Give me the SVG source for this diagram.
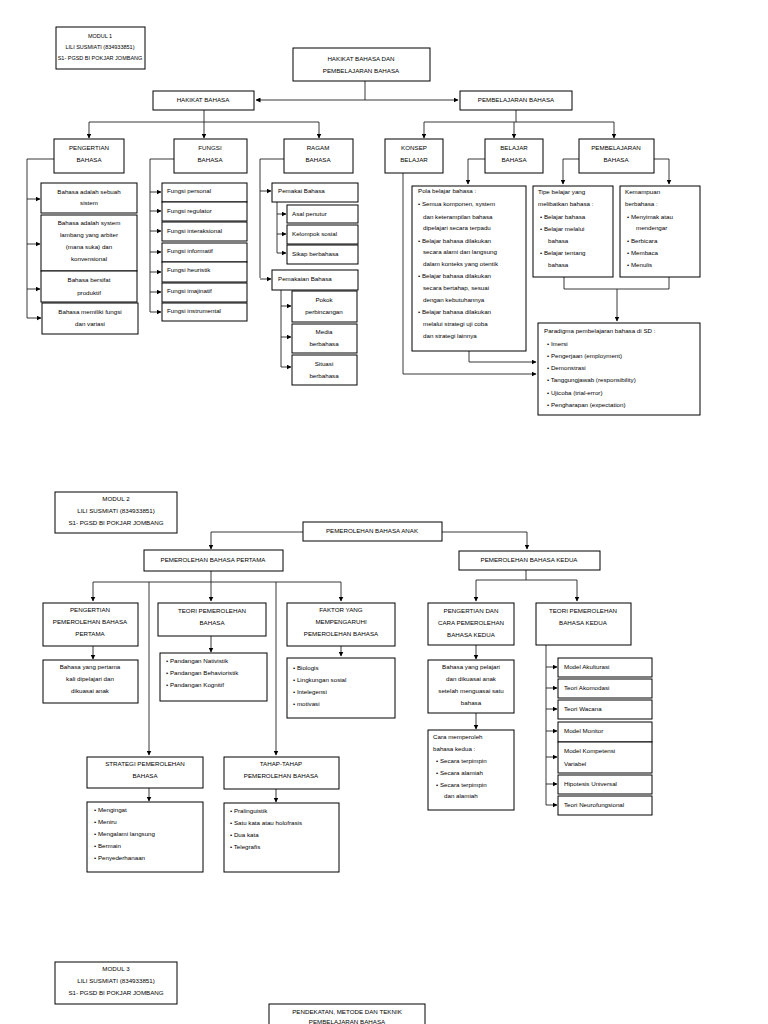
<svg xmlns="http://www.w3.org/2000/svg" width="768" height="1024" viewBox="0 0 768 1024">
<defs>
<marker id="a" markerWidth="5" markerHeight="5" refX="4.5" refY="2.5" orient="auto" markerUnits="userSpaceOnUse"><path d="M0,0 L5,2.5 L0,5 Z" fill="#000"/></marker>
<style>
rect{fill:#fff;stroke:#000;stroke-width:1}
text{font-family:"Liberation Sans",Arial,sans-serif;font-size:6.2px;fill:#000}
.c{text-anchor:middle}
.m{font-size:5.5px}
.l path{fill:none;stroke:#222;stroke-width:0.9}
.l .r{marker-end:url(#a)}
</style>
</defs>
<rect x="0" y="0" width="768" height="1024" style="fill:#fff;stroke:none"/>

<g class="l" id="connectors">
<path class="r" d="M365,81 V100 H256"/><path class="r" d="M365,100 H458"/>
<path d="M204,110 V122 M89,122 H319"/>
<path class="r" d="M89,122 V138"/><path class="r" d="M204,122 V138"/><path class="r" d="M319,122 V138"/>
<path d="M516,110 V122 M424,122 H614"/>
<path class="r" d="M424,122 V138"/><path class="r" d="M514,122 V138"/><path class="r" d="M614,122 V138"/>
<path d="M54,159 H27 V318"/>
<path class="r" d="M27,199 H40"/><path class="r" d="M27,244 H40"/><path class="r" d="M27,289 H40"/><path class="r" d="M27,318 H41"/>
<path d="M174,159 H150 V312"/>
<path class="r" d="M150,192 H161"/><path class="r" d="M150,211 H161"/><path class="r" d="M150,231 H161"/><path class="r" d="M150,252 H161"/><path class="r" d="M150,272 H161"/><path class="r" d="M150,292 H161"/><path class="r" d="M150,312 H161"/>
<path d="M284,159 H260 V278"/>
<path class="r" d="M260,191 H271"/><path class="r" d="M260,279 H271"/>
<path d="M277,202 V253"/>
<path class="r" d="M277,214 H286"/><path class="r" d="M277,234 H286"/><path class="r" d="M277,253 H286"/>
<path d="M281,290 V367"/>
<path class="r" d="M281,306 H291"/><path class="r" d="M281,337 H291"/><path class="r" d="M281,367 H291"/>
<path class="r" d="M403,173 V374 H536"/>
<path class="r" d="M485,159 H468 V184"/>
<path class="r" d="M469,351 V362 H536"/>
<path class="r" d="M579,159 H563 V184"/><path class="r" d="M654,159 H669 V184"/>
<path d="M564,277 V289 H669 V277"/><path class="r" d="M617,289 V321"/>

<path class="r" d="M303,532 H211 V549"/><path class="r" d="M442,532 H527 V549"/>
<path d="M211,571 V582 M93,582 H341"/>
<path class="r" d="M93,582 V601"/><path class="r" d="M211,582 V601"/><path class="r" d="M341,582 V601"/>
<path class="r" d="M149,582 V755"/><path class="r" d="M276,582 V755"/>
<path class="r" d="M93,646 V659"/><path class="r" d="M211,636 V652"/><path class="r" d="M341,646 V656"/>
<path class="r" d="M149,788 V801"/><path class="r" d="M276,789 V802"/>
<path d="M526,570 V580 M476,580 H577"/>
<path class="r" d="M476,580 V601"/><path class="r" d="M577,580 V601"/>
<path class="r" d="M476,645 V659"/><path class="r" d="M476,713 V729"/>
<path d="M546,645 V805"/>
<path class="r" d="M546,667 H557"/><path class="r" d="M546,688 H557"/><path class="r" d="M546,709 H557"/><path class="r" d="M546,731 H557"/><path class="r" d="M546,757 H557"/><path class="r" d="M546,784 H557"/><path class="r" d="M546,805 H557"/>
</g>

<g id="modul1"><rect x="56" y="27" width="89" height="42"/><text class="c m" x="100" y="38">MODUL 1</text><text class="c m" x="100" y="49">LILI SUSMIATI (834933851)</text><text class="c m" x="100" y="60">S1- PGSD BI POKJAR JOMBANG</text></g>
<g id="root1"><rect x="293" y="48" width="137" height="33"/><text class="c" x="361" y="61">HAKIKAT BAHASA DAN</text><text class="c" x="361" y="73">PEMBELAJARAN BAHASA</text></g>
<g id="hakikat"><rect x="153" y="91" width="101" height="19"/><text class="c" x="203" y="102">HAKIKAT BAHASA</text></g>
<g id="pemb"><rect x="460" y="91" width="112" height="19"/><text class="c" x="516" y="102">PEMBELAJARAN BAHASA</text></g>

<g id="pengertian"><rect x="54" y="139" width="70" height="34"/><text class="c" x="89" y="150">PENGERTIAN</text><text class="c" x="89" y="162">BAHASA</text></g>
<g id="p1"><rect x="41" y="183" width="96" height="30"/><text class="c" x="89" y="194">Bahasa adalah sebuah</text><text class="c" x="89" y="205">sistem</text></g>
<g id="p2"><rect x="41" y="215" width="96" height="56"/><text class="c" x="89" y="225">Bahasa adalah system</text><text class="c" x="89" y="237">lambang yang arbiter</text><text class="c" x="89" y="249">(mana suka) dan</text><text class="c" x="89" y="261">konvensional</text></g>
<g id="p3"><rect x="41" y="271" width="96" height="31"/><text class="c" x="89" y="282">Bahasa bersifat</text><text class="c" x="89" y="295">produktif</text></g>
<g id="p4"><rect x="42" y="303" width="96" height="31"/><text class="c" x="90" y="314">Bahasa memiliki fungsi</text><text class="c" x="90" y="326">dan variasi</text></g>

<g id="fungsi"><rect x="174" y="139" width="73" height="34"/><text class="c" x="210" y="150">FUNGSI</text><text class="c" x="210" y="162">BAHASA</text></g>
<g id="f1"><rect x="162" y="183" width="85" height="19"/><text x="167" y="193">Fungsi personal</text></g>
<g id="f2"><rect x="162" y="202" width="85" height="19"/><text x="167" y="213">Fungsi regulator</text></g>
<g id="f3"><rect x="162" y="222" width="85" height="19"/><text x="167" y="233">Fungsi interaksional</text></g>
<g id="f4"><rect x="162" y="243" width="85" height="19"/><text x="167" y="253">Fungsi informatif</text></g>
<g id="f5"><rect x="162" y="262" width="85" height="20"/><text x="167" y="272">Fungsi heuristik</text></g>
<g id="f6"><rect x="162" y="283" width="85" height="19"/><text x="167" y="293">Fungsi imajinatif</text></g>
<g id="f7"><rect x="162" y="303" width="85" height="18"/><text x="167" y="313">Fungsi instrumental</text></g>

<g id="ragam"><rect x="284" y="139" width="69" height="34"/><text class="c" x="318" y="150">RAGAM</text><text class="c" x="318" y="162">BAHASA</text></g>
<g id="r1"><rect x="272" y="183" width="86" height="19"/><text x="278" y="193">Pemakai Bahasa</text></g>
<g id="r1a"><rect x="287" y="205" width="71" height="18"/><text x="292" y="216">Asal penutur</text></g>
<g id="r1b"><rect x="287" y="225" width="71" height="19"/><text x="292" y="236">Kelompok sosial</text></g>
<g id="r1c"><rect x="287" y="245" width="71" height="19"/><text x="292" y="256">Sikap berbahasa</text></g>
<g id="r2"><rect x="272" y="270" width="86" height="20"/><text x="278" y="281">Pemakaian Bahasa</text></g>
<g id="r2a"><rect x="292" y="291" width="65" height="31"/><text class="c" x="324" y="302">Pokok</text><text class="c" x="324" y="314">perbincangan</text></g>
<g id="r2b"><rect x="292" y="324" width="65" height="29"/><text class="c" x="324" y="334">Media</text><text class="c" x="324" y="346">berbahasa</text></g>
<g id="r2c"><rect x="292" y="355" width="65" height="30"/><text class="c" x="324" y="366">Situasi</text><text class="c" x="324" y="378">berbahasa</text></g>

<g id="konsep"><rect x="385" y="139" width="58" height="34"/><text class="c" x="414" y="150">KONSEP</text><text class="c" x="414" y="162">BELAJAR</text></g>
<g id="belajar"><rect x="485" y="139" width="58" height="34"/><text class="c" x="514" y="150">BELAJAR</text><text class="c" x="514" y="162">BAHASA</text></g>
<g id="pembb"><rect x="579" y="139" width="75" height="34"/><text class="c" x="616" y="150">PEMBELAJARAN</text><text class="c" x="616" y="162">BAHASA</text></g>
<g id="pola"><rect x="412" y="186" width="114" height="165"/>
<text x="418" y="193">Pola belajar bahasa :</text>
<text x="418" y="206">• Semua komponen, system</text><text x="423" y="219">dan keterampilan bahasa</text><text x="423" y="230">dipelajari secara terpadu</text>
<text x="418" y="243">• Belajar bahasa dilakukan</text><text x="423" y="254">secara alami dan langsung</text><text x="423" y="266">dalam konteks yang otentik</text>
<text x="418" y="278">• Belajar bahasa dilakukan</text><text x="423" y="290">secara bertahap, sesuai</text><text x="423" y="302">dengan kebutuhannya</text>
<text x="418" y="314">• Belajar bahasa dilakukan</text><text x="423" y="326">melalui strategi uji coba</text><text x="423" y="338">dan strategi lainnya</text></g>
<g id="tipe"><rect x="533" y="186" width="80" height="91"/>
<text x="538" y="194">Tipe belajar yang</text><text x="538" y="206">melibatkan bahasa :</text>
<text x="540" y="219">•  Belajar bahasa</text><text x="540" y="231">•  Belajar melalui</text><text x="548" y="243">bahasa</text><text x="540" y="255">•  Belajar tentang</text><text x="548" y="267">bahasa</text></g>
<g id="kemampuan"><rect x="620" y="186" width="80" height="91"/>
<text x="625" y="194">Kemampuan</text><text x="625" y="206">berbahasa :</text>
<text x="627" y="219">•  Menyimak atau</text><text x="636" y="230">mendengar</text><text x="627" y="243">•  Berbicara</text><text x="627" y="255">•  Membaca</text><text x="627" y="267">•  Menulis</text></g>
<g id="paradigma"><rect x="538" y="323" width="162" height="92"/>
<text x="544" y="333">Paradigma pembelajaran bahasa di SD :</text>
<text x="547" y="346">•  Imersi</text><text x="547" y="358">•  Pengerjaan (employment)</text><text x="547" y="370">•  Demonstrasi</text><text x="547" y="382">•  Tanggungjawab (responsibility)</text><text x="547" y="395">•  Ujicoba (trial-error)</text><text x="547" y="407">•  Pengharapan (expectation)</text></g>

<g id="modul2"><rect x="55" y="492" width="122" height="41"/><text class="c" x="116" y="501">MODUL 2</text><text class="c" x="116" y="513">LILI SUSMIATI (834933851)</text><text class="c" x="116" y="525">S1- PGSD BI POKJAR JOMBANG</text></g>
<g id="root2"><rect x="303" y="522" width="139" height="19"/><text class="c" x="372" y="533">PEMEROLEHAN BAHASA ANAK</text></g>
<g id="pertama"><rect x="144" y="550" width="139" height="21"/><text class="c" x="213" y="562">PEMEROLEHAN BAHASA PERTAMA</text></g>
<g id="kedua"><rect x="459" y="551" width="141" height="19"/><text class="c" x="529" y="562">PEMEROLEHAN BAHASA KEDUA</text></g>
<g id="pp"><rect x="43" y="603" width="95" height="43"/><text class="c" x="90" y="612">PENGERTIAN</text><text class="c" x="90" y="624">PEMEROLEHAN BAHASA</text><text class="c" x="90" y="636">PERTAMA</text></g>
<g id="pp1"><rect x="43" y="660" width="95" height="43"/><text class="c" x="90" y="669">Bahasa yang pertama</text><text class="c" x="90" y="681">kali dipelajari dan</text><text class="c" x="90" y="693">dikuasai anak</text></g>
<g id="tp"><rect x="158" y="603" width="108" height="33"/><text class="c" x="212" y="613">TEORI PEMEROLEHAN</text><text class="c" x="212" y="625">BAHASA</text></g>
<g id="tp1"><rect x="160" y="653" width="107" height="48"/><text x="166" y="663">•  Pandangan Nativistik</text><text x="166" y="675">•  Pandangan Behavioristik</text><text x="166" y="687">•  Pandangan Kognitif</text></g>
<g id="fp"><rect x="287" y="603" width="108" height="43"/><text class="c" x="341" y="612">FAKTOR YANG</text><text class="c" x="341" y="624">MEMPENGARUHI</text><text class="c" x="341" y="636">PEMEROLEHAN BAHASA</text></g>
<g id="fp1"><rect x="287" y="658" width="108" height="60"/><text x="293" y="670">•  Biologis</text><text x="293" y="682">•  Lingkungan sosial</text><text x="293" y="694">•  Intelegensi</text><text x="293" y="706">•  motivasi</text></g>
<g id="sp"><rect x="87" y="757" width="116" height="31"/><text class="c" x="145" y="766">STRATEGI PEMEROLEHAN</text><text class="c" x="145" y="778">BAHASA</text></g>
<g id="sp1"><rect x="87" y="802" width="116" height="70"/><text x="94" y="812">•  Mengingat</text><text x="94" y="824">•  Meniru</text><text x="94" y="836">•  Mengalami langsung</text><text x="94" y="848">•  Bermain</text><text x="94" y="860">•  Penyederhanaan</text></g>
<g id="th"><rect x="224" y="757" width="115" height="32"/><text class="c" x="281" y="766">TAHAP-TAHAP</text><text class="c" x="281" y="778">PEMEROLEHAN BAHASA</text></g>
<g id="th1"><rect x="224" y="803" width="115" height="69"/><text x="230" y="813">•  Pralinguistik</text><text x="230" y="825">•  Satu kata atau holofrasis</text><text x="230" y="837">•  Dua kata</text><text x="230" y="849">•  Telegrafis</text></g>
<g id="pk"><rect x="428" y="603" width="86" height="42"/><text class="c" x="471" y="613">PENGERTIAN  DAN</text><text class="c" x="471" y="625">CARA PEMEROLEHAN</text><text class="c" x="471" y="637">BAHASA KEDUA</text></g>
<g id="pk1"><rect x="428" y="660" width="86" height="53"/><text class="c" x="471" y="669">Bahasa yang pelajari</text><text class="c" x="471" y="681">dan dikuasai anak</text><text class="c" x="471" y="693">setelah menguasai satu</text><text class="c" x="471" y="705">bahasa</text></g>
<g id="pk2"><rect x="428" y="730" width="86" height="80"/><text x="433" y="739">Cara memperoleh</text><text x="433" y="751">bahasa kedua :</text><text x="436" y="763">•  Secara terpimpin</text><text x="436" y="775">•  Secara alamiah</text><text x="436" y="787">•  Secara terpimpin</text><text x="444" y="798">dan alamiah</text></g>
<g id="tk"><rect x="536" y="603" width="95" height="42"/><text class="c" x="583" y="613">TEORI PEMEROLEHAN</text><text class="c" x="583" y="625">BAHASA KEDUA</text></g>
<g id="tk1"><rect x="558" y="658" width="94" height="19"/><text x="564" y="669">Model Akulturasi</text></g>
<g id="tk2"><rect x="558" y="679" width="94" height="19"/><text x="564" y="690">Teori Akomodasi</text></g>
<g id="tk3"><rect x="558" y="700" width="94" height="19"/><text x="564" y="711">Teori Wacana</text></g>
<g id="tk4"><rect x="558" y="722" width="94" height="20"/><text x="564" y="733">Model Monitor</text></g>
<g id="tk5"><rect x="558" y="742" width="94" height="31"/><text x="564" y="753">Model Kompetensi</text><text x="564" y="766">Variabel</text></g>
<g id="tk6"><rect x="558" y="775" width="94" height="19"/><text x="564" y="786">Hipotesis Universal</text></g>
<g id="tk7"><rect x="558" y="796" width="94" height="19"/><text x="564" y="807">Teori Neurofungsional</text></g>

<g id="modul3"><rect x="55" y="962" width="122" height="42"/><text class="c" x="116" y="971">MODUL 3</text><text class="c" x="116" y="983">LILI SUSMIATI (834933851)</text><text class="c" x="116" y="995">S1- PGSD BI POKJAR JOMBANG</text></g>
<g id="root3"><rect x="269" y="1004" width="156" height="30"/><text class="c" x="347" y="1014">PENDEKATAN, METODE DAN TEKNIK</text><text class="c" x="347" y="1024">PEMBELAJARAN BAHASA</text></g>
</svg>
